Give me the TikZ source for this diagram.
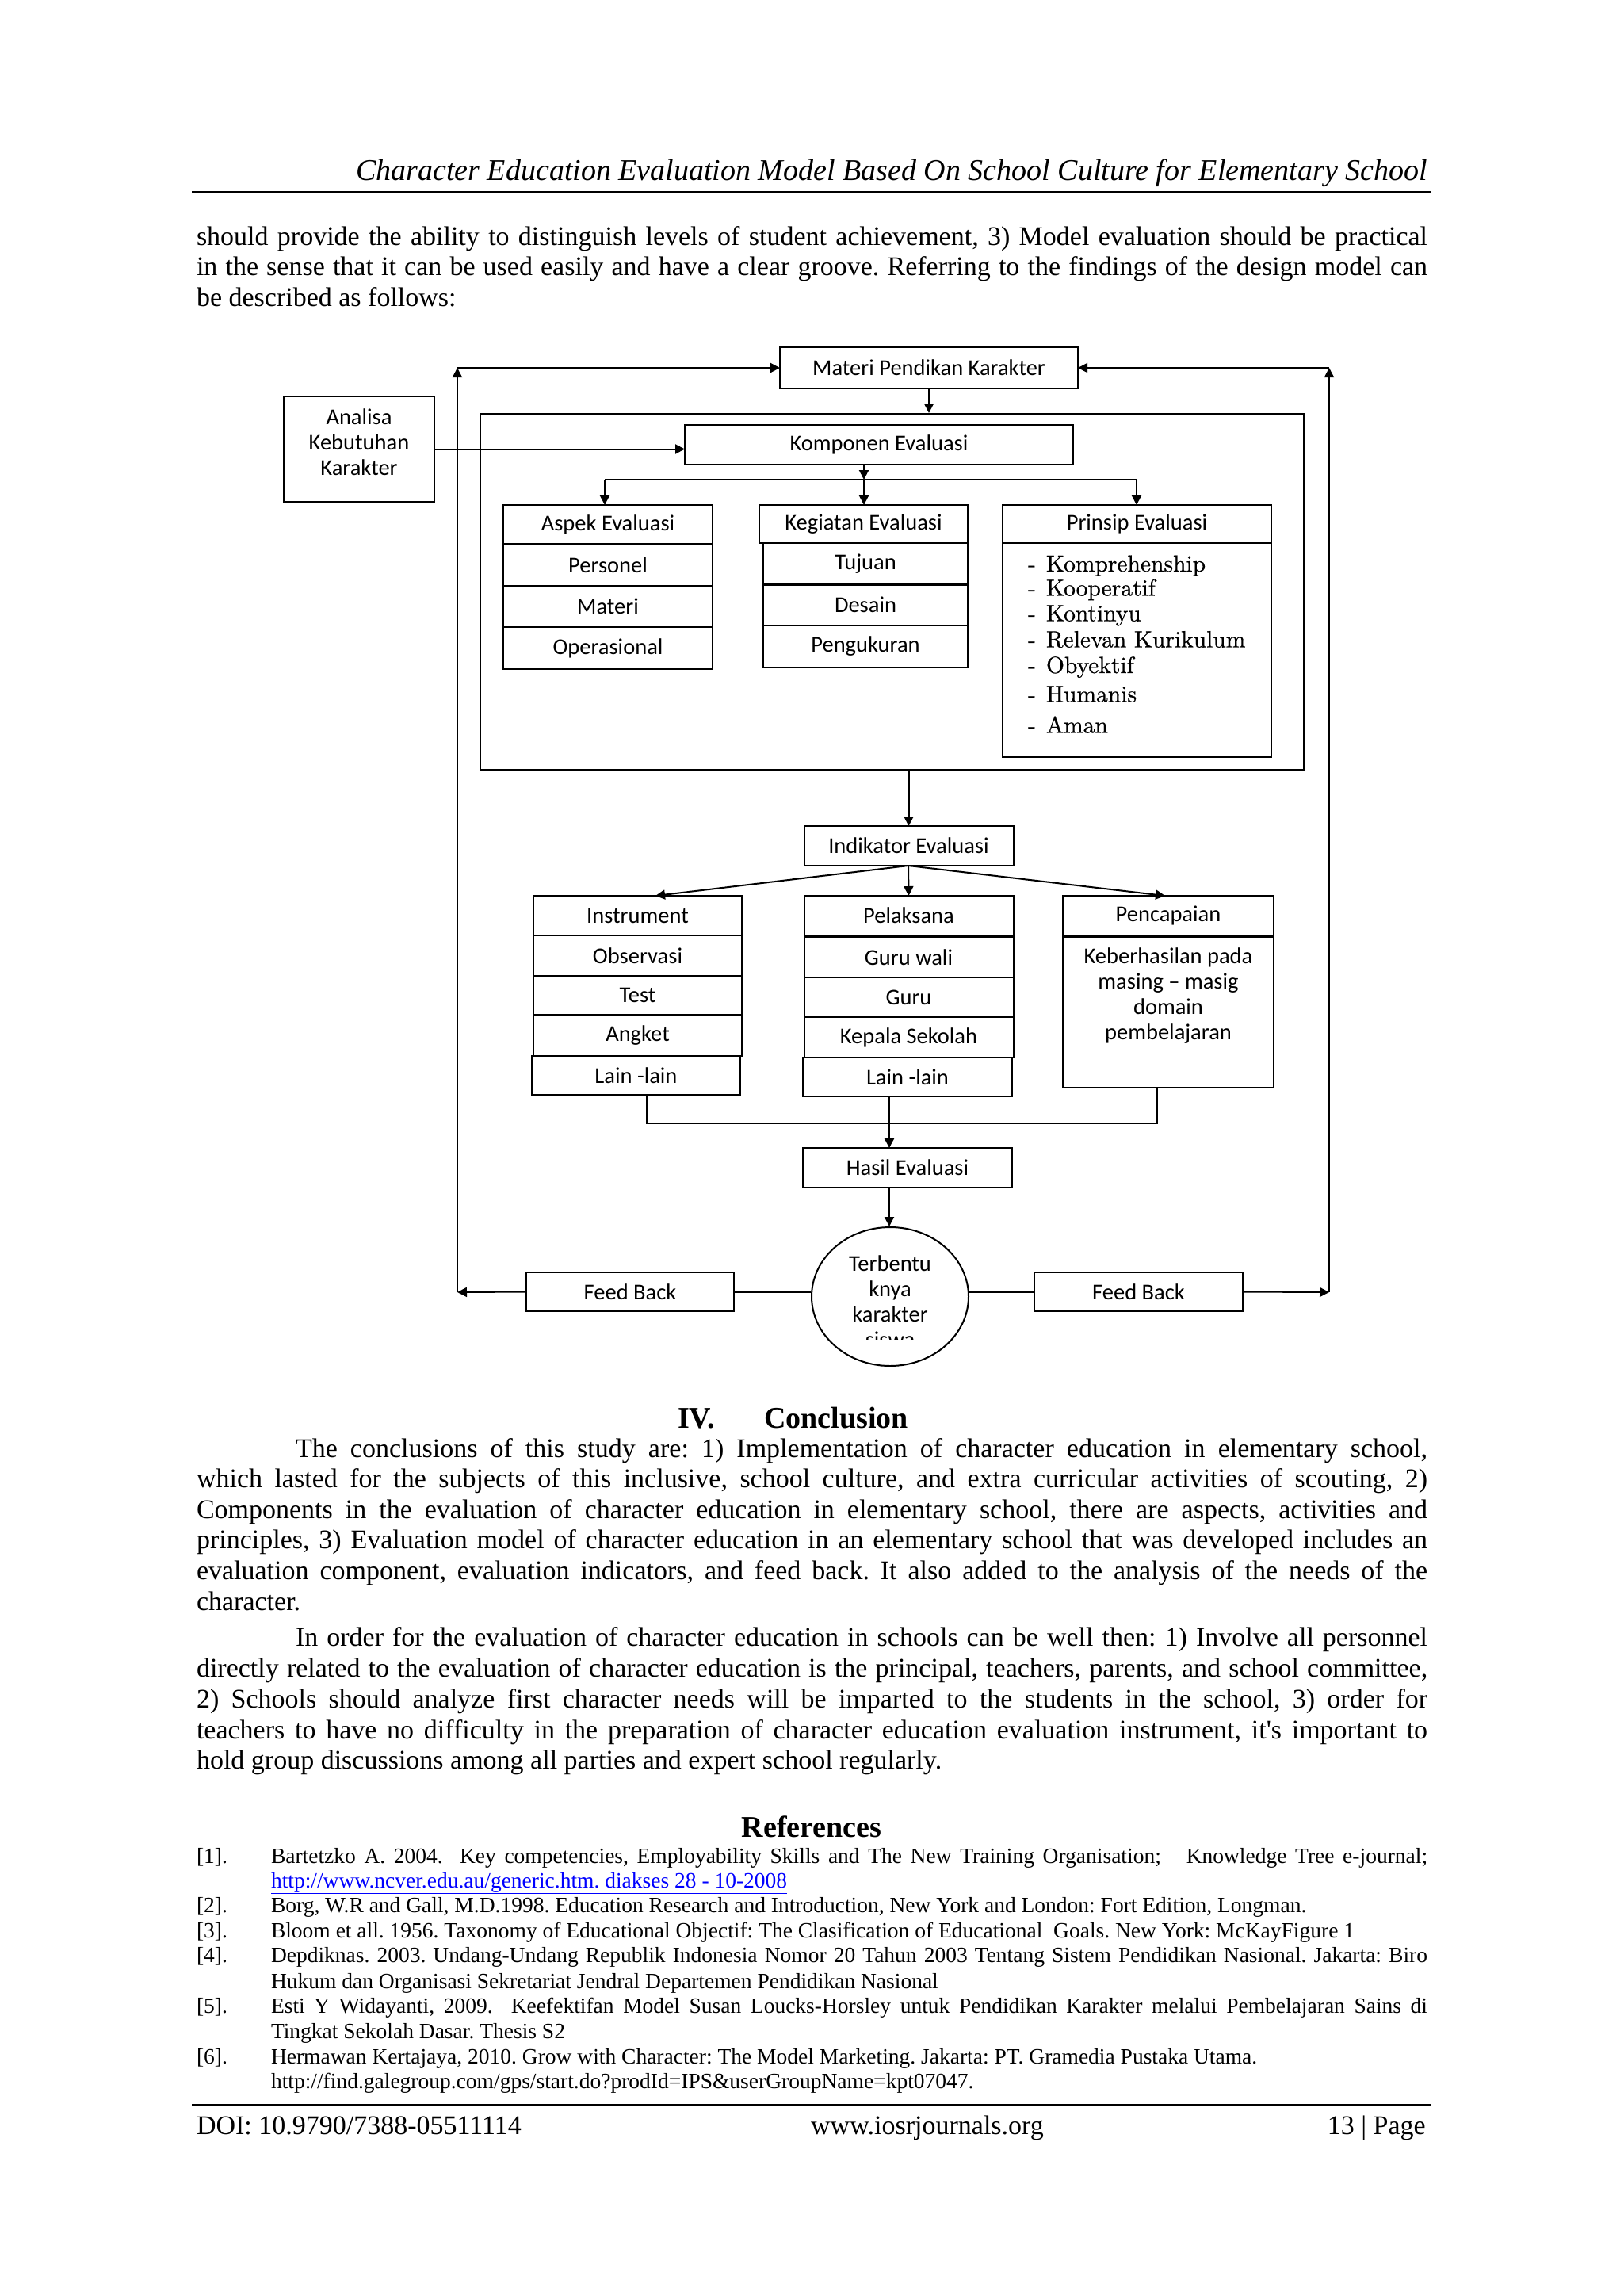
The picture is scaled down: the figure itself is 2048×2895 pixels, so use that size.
\documentclass[tikz,border=0pt]{standalone}
\usepackage{fontspec}
\newfontfamily\tnr{Liberation Serif}
\newfontfamily\dfont{Carlito}
\newfontfamily\lmb{lmroman10-regular}[Extension=.otf, FakeBold=0.6]
\usetikzlibrary{arrows.meta,shapes.geometric}
\begin{document}
\frenchspacing
\begin{tikzpicture}[x=1pt,y=-1pt,
  box/.style={draw, line width=2pt, inner sep=0pt, outer sep=0pt, align=center, font={\dfont\fontsize{28.5}{32}\selectfont}},
  dtext/.style={inner sep=0pt, outer sep=0pt, font={\dfont\fontsize{28.5}{32}\selectfont}},
  conn/.style={line width=2pt},
  arr/.style={line width=2pt, -{Triangle[length=12pt,width=12pt]}},
  body/.style={anchor=base west, inner sep=0pt, outer sep=0pt, font={\tnr\fontsize{34}{39}\selectfont}},
  bodyc/.style={anchor=base, inner sep=0pt, outer sep=0pt, font={\tnr\fontsize{34}{39}\selectfont}},
  refs/.style={anchor=base west, inner sep=0pt, outer sep=0pt, font={\tnr\fontsize{27.5}{31.6}\selectfont}},
  list/.style={anchor=base west, inner sep=0pt, outer sep=0pt, font={\lmb\fontsize{29.5}{34}\selectfont}},
  rule/.style={line width=3pt}
]
\useasboundingbox[fill=white] (0,0) rectangle (2048,2895);

% ---------- header ----------
\node[anchor=base east, inner sep=0pt, font={\tnr\itshape\fontsize{38}{40}\selectfont}] (hdr) at (1801,228) {Character Education Evaluation Model Based On School Culture for Elementary School};
\coordinate (hrA) at (242,243);
\coordinate (hrB) at (1806,243);
\draw[rule] (hrA) -- (hrB);

% ---------- intro paragraph ----------
\node[body] (i1) at (248,309.5) {\makebox[1553pt][s]{should provide the ability to distinguish levels of student achievement, 3) Model evaluation should be practical}};
\node[body] (i2) at (248,347.5) {\makebox[1553pt][s]{in the sense that it can be used easily and have a clear groove. Referring to the findings of the design model can}};
\node[body] (i3) at (248,386) {be described as follows:};

% ---------- diagram ----------
\node[box, minimum width=376pt, minimum height=52pt] (materi) at (1172,464) {Materi Pendikan Karakter};
\node[box, minimum width=190pt, minimum height=133pt] (analisa) at (453,566.5) {};
\node[dtext] (an1) at (453,526) {Analisa};
\node[dtext] (an2) at (453,558) {Kebutuhan};
\node[dtext] (an3) at (453,590) {Karakter};
\node[draw, line width=2pt, inner sep=0pt, minimum width=1039pt, minimum height=449pt] (cont) at (1125.5,746.5) {};
\node[box, minimum width=490pt, minimum height=50pt] (komp) at (1109,561) {Komponen Evaluasi};

\node[box, minimum width=264pt, minimum height=49pt] (aspek) at (767,661.5) {Aspek Evaluasi};
\node[box, minimum width=264pt, minimum height=53pt] (personel) at (767,712.5) {Personel};
\node[box, minimum width=264pt, minimum height=52pt] (materib) at (767,765) {Materi};
\node[box, minimum width=264pt, minimum height=53pt] (operasional) at (767,817.5) {Operasional};

\node[box, minimum width=263pt, minimum height=48pt] (kegiatan) at (1089.5,661) {Kegiatan Evaluasi};
\node[box, minimum width=258pt, minimum height=52.5pt] (tujuan) at (1092,711) {Tujuan};
\node[box, minimum width=258pt, minimum height=51pt] (desain) at (1092,763) {Desain};
\node[box, minimum width=258pt, minimum height=53.4pt] (pengukuran) at (1092,815.3) {Pengukuran};

\node[box, minimum width=339pt, minimum height=48pt] (prinsip) at (1434.5,661) {Prinsip Evaluasi};
\node[box, minimum width=339pt, minimum height=270pt] (prinsipb) at (1434.5,820) {};
\foreach \t/\yy/\nm in {Komprehenship/721/la, Kooperatif/751.5/lb, Kontinyu/783.5/lc, Relevan Kurikulum/816.5/ld, Obyektif/849/le, Humanis/885.5/lf, Aman/924.5/lg}{
  \node[list] (d\nm) at (1297,\yy) {-};
  \node[list] (t\nm) at (1320,\yy) {\t};
}

\coordinate (kj) at (1090,605);
\coordinate (kjl) at (763,605);
\coordinate (kjr) at (1434,605);
\draw[arr] (komp.south -| kj) -- (kj);
\draw[conn] (kjl) -- (kjr);
\draw[arr] (kjl) -- (kjl |- aspek.north);
\draw[arr] (kj) -- (kj |- kegiatan.north);
\draw[arr] (kjr) -- (kjr |- prinsip.north);

\draw[arr] (materi.south) -- (materi.south |- cont.north);
\draw[arr] (analisa.east) -- (analisa.east -| komp.west);

\node[box, minimum width=264pt, minimum height=50pt] (indikator) at (1146.5,1067) {Indikator Evaluasi};
\draw[arr] (cont.south -| indikator.north) -- (indikator.north);

\node[box, minimum width=263pt, minimum height=50pt] (instrument) at (804.5,1155) {Instrument};
\node[box, minimum width=263pt, minimum height=51pt] (observasi) at (804.5,1205.5) {Observasi};
\node[box, minimum width=263pt, minimum height=49pt] (test) at (804.5,1255.5) {Test};
\node[box, minimum width=263pt, minimum height=52pt] (angket) at (804.5,1306) {Angket};
\node[box, minimum width=263pt, minimum height=49pt] (lain1) at (802.5,1356.5) {Lain -lain};

\node[box, minimum width=264pt, minimum height=50pt] (pelaksana) at (1146.5,1155) {Pelaksana};
\node[box, minimum width=264pt, minimum height=51pt] (guruwali) at (1146.5,1207.5) {Guru wali};
\node[box, minimum width=264pt, minimum height=50pt] (guru) at (1146.5,1258) {Guru};
\node[box, minimum width=264pt, minimum height=51pt] (kepala) at (1146.5,1308.5) {Kepala Sekolah};
\node[box, minimum width=264pt, minimum height=49pt] (lain2) at (1145,1358.5) {Lain -lain};

\node[box, minimum width=266pt, minimum height=50pt] (pencapaian) at (1474,1155) {Pencapaian};
\node[box, minimum width=266pt, minimum height=190pt] (pencb) at (1474,1277) {};
\node[dtext, anchor=base] (pc1) at (1474,1215) {Keberhasilan pada};
\node[dtext, anchor=base] (pc2) at (1474,1247) {masing – masig};
\node[dtext, anchor=base] (pc3) at (1474,1279) {domain};
\node[dtext, anchor=base] (pc4) at (1474,1311) {pembelajaran};

\coordinate (ib) at (1146,1092);
\coordinate (tl) at (827,1130);
\coordinate (tr) at (1470,1130);
\draw[arr] (ib) -- (tl);
\draw[arr] (ib) -- (pelaksana.north);
\draw[arr] (ib) -- (tr);

\node[box, minimum width=264pt, minimum height=50pt] (hasil) at (1145,1473) {Hasil Evaluasi};
\coordinate (ml) at (816,1417);
\coordinate (mr) at (1460,1417);
\coordinate (mm) at (1122,1417);
\draw[conn] (lain1.south -| ml) -- (ml) -- (mr) -- (pencb.south -| mr);
\draw[arr] (lain2.south -| mm) -- (hasil.north -| mm);

\node[draw, ellipse, line width=2pt, inner sep=0pt, minimum width=198pt, minimum height=175pt] (ell) at (1123,1635.5) {};
\draw[arr] (hasil.south -| mm) -- (ell.north -| mm);
\node[dtext, anchor=base] (e1) at (1123,1603) {Terbentu};
\node[dtext, anchor=base] (e2) at (1123,1635) {knya};
\node[dtext, anchor=base] (e3) at (1123,1667) {karakter};
\begin{scope}
\clip (1040,1670) rectangle (1210,1689);
\node[dtext, anchor=base] (e4) at (1123,1699) {siswa};
\end{scope}

\node[box, minimum width=262pt, minimum height=49pt] (fbl) at (795,1629.5) {Feed Back};
\node[box, minimum width=263pt, minimum height=49pt] (fbr) at (1436.5,1629.5) {Feed Back};
\draw[conn] (fbl.east) -- (fbl.east -| ell.west);
\draw[conn] (fbr.west -| ell.east) -- (fbr.west);

\coordinate (lb) at (577,1630);
\coordinate (lt) at (577,464);
\coordinate (rb) at (1677,1630);
\coordinate (rt) at (1677,464);
\draw[arr] (fbl.west) -- (lb);
\draw[arr] (lb) -- (lt);
\draw[arr] (lt) -- (materi.west);
\draw[arr] (fbr.east) -- (rb);
\draw[arr] (rb) -- (rt);
\draw[arr] (rt) -- (materi.east);

% ---------- conclusion ----------
\node[anchor=base west, inner sep=0pt, font={\tnr\bfseries\fontsize{38}{40}\selectfont}] (c4) at (855,1801) {IV.};
\node[anchor=base west, inner sep=0pt, font={\tnr\bfseries\fontsize{38}{40}\selectfont}] (cc) at (964,1801) {Conclusion};

\node[body] (a1) at (373,1838) {\makebox[1428pt][s]{The conclusions of this study are: 1) Implementation of character education in elementary school,}};
\node[body] (a2) at (248,1876.5) {\makebox[1553pt][s]{which lasted for the subjects of this inclusive, school culture, and extra curricular activities of scouting, 2)}};
\node[body] (a3) at (248,1915) {\makebox[1553pt][s]{Components in the evaluation of character education in elementary school, there are aspects, activities and}};
\node[body] (a4) at (248,1953.5) {\makebox[1553pt][s]{principles, 3) Evaluation model of character education in an elementary school that was developed includes an}};
\node[body] (a5) at (248,1992) {\makebox[1553pt][s]{evaluation component, evaluation indicators, and feed back. It also added to the analysis of the needs of the}};
\node[body] (a6) at (248,2031) {character.};

\node[body] (b1) at (373,2076) {\makebox[1428pt][s]{In order for the evaluation of character education in schools can be well then: 1) Involve all personnel}};
\node[body] (b2) at (248,2115) {\makebox[1553pt][s]{directly related to the evaluation of character education is the principal, teachers, parents, and school committee,}};
\node[body] (b3) at (248,2154) {\makebox[1553pt][s]{2) Schools should analyze first character needs will be imparted to the students in the school, 3) order for}};
\node[body] (b4) at (248,2193) {\makebox[1553pt][s]{teachers to have no difficulty in the preparation of character education evaluation instrument, it's important to}};
\node[body] (b5) at (248,2231) {hold group discussions among all parties and expert school regularly.};

% ---------- references ----------
\node[anchor=base, inner sep=0pt, font={\tnr\bfseries\fontsize{38}{40}\selectfont}] (refh) at (1024,2317) {References};

\node[refs] (r1) at (248,2350) {[1].};
\node[refs] (r1a) at (342,2350) {\makebox[1459pt][s]{Bartetzko A. 2004.\ \ Key competencies, Employability Skills and The New Training Organisation;\ \ \ Knowledge Tree e-journal;}};
\node[refs] (r1b) at (342,2381) {\textcolor{blue}{\underline{http://www.ncver.edu.au/generic.htm. diakses 28 - 10-2008}}};
\node[refs] (r2) at (248,2412) {[2].};
\node[refs] (r2a) at (342,2412) {Borg, W.R and Gall, M.D.1998. Education Research and Introduction, New York and London: Fort Edition, Longman.};
\node[refs] (r3) at (248,2444) {[3].};
\node[refs] (r3a) at (342,2444) {Bloom et all. 1956. Taxonomy of Educational Objectif: The Clasification of Educational\ \ Goals. New York: McKayFigure 1};
\node[refs] (r4) at (248,2475) {[4].};
\node[refs] (r4a) at (342,2475) {\makebox[1459pt][s]{Depdiknas. 2003. Undang-Undang Republik Indonesia Nomor 20 Tahun 2003 Tentang Sistem Pendidikan Nasional. Jakarta: Biro}};
\node[refs] (r4b) at (342,2508) {Hukum dan Organisasi Sekretariat Jendral Departemen Pendidikan Nasional};
\node[refs] (r5) at (248,2539) {[5].};
\node[refs] (r5a) at (342,2539) {\makebox[1459pt][s]{Esti Y Widayanti, 2009.\ \ Keefektifan Model Susan Loucks-Horsley untuk Pendidikan Karakter melalui Pembelajaran Sains di}};
\node[refs] (r5b) at (342,2571) {Tingkat Sekolah Dasar. Thesis S2};
\node[refs] (r6) at (248,2603) {[6].};
\node[refs] (r6a) at (342,2603) {Hermawan Kertajaya, 2010. Grow with Character: The Model Marketing. Jakarta: PT. Gramedia Pustaka Utama.};
\node[refs] (r6b) at (342,2634) {\underline{http://find.galegroup.com/gps/start.do?prodId=IPS\&userGroupName=kpt07047.}};

% ---------- footer ----------
\coordinate (frA) at (242,2655);
\coordinate (frB) at (1806,2655);
\draw[rule] (frA) -- (frB);
\node[body] (f1) at (248,2692) {DOI: 10.9790/7388-05511114};
\node[bodyc] (f2) at (1170,2692) {www.iosrjournals.org};
\node[anchor=base east, inner sep=0pt, font={\tnr\fontsize{34}{39}\selectfont}] (f3) at (1799,2692) {13 | Page};
\end{tikzpicture}
\end{document}
